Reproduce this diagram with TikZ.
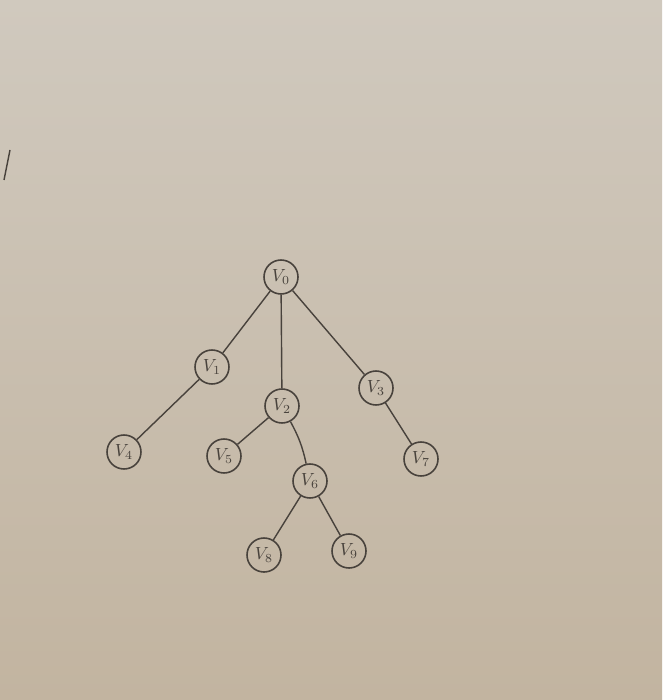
\documentclass[tikz,border=0pt]{standalone}
\usepackage{amsmath}
\usepackage{tikz}
\definecolor{paper}{RGB}{208,201,190}
\definecolor{paperlow}{RGB}{194,180,160}
\definecolor{pencil}{RGB}{72,66,60}
\begin{document}
\begin{tikzpicture}[scale=0.2]
\tikzstyle{every node}+=[inner sep=0pt]
\tikzstyle{vert}=[circle, draw=pencil, line width=0.9pt, minimum size=0.68cm, text=pencil, font=\normalsize]
\shade [top color=paper, bottom color=paperlow] (0,0) rectangle (66.2,-70);
\useasboundingbox (0,0) rectangle (66.2,-70);
\draw [pencil, line width=0.8pt] (1.0,-15.0) -- (0.4,-18.0);
\node [vert] (v0) at (28.1,-27.7) {$V_0$};
\node [vert] (v1) at (21.2,-36.7) {$V_1$};
\node [vert] (v2) at (28.2,-40.6) {$V_2$};
\node [vert] (v3) at (37.6,-38.8) {$V_3$};
\node [vert] (v4) at (12.4,-45.2) {$V_4$};
\node [vert] (v5) at (22.4,-45.6) {$V_5$};
\node [vert] (v6) at (31.0,-48.1) {$V_6$};
\node [vert] (v7) at (42.1,-45.9) {$V_7$};
\node [vert] (v8) at (26.4,-55.5) {$V_8$};
\node [vert] (v9) at (34.9,-55.1) {$V_9$};
\draw [pencil, line width=0.8pt] (v0) -- (v1);
\draw [pencil, line width=0.8pt] (v0) -- (v2);
\draw [pencil, line width=0.8pt] (v0) -- (v3);
\draw [pencil, line width=0.8pt] (v1) -- (v4);
\draw [pencil, line width=0.8pt] (v2) -- (v5);
\draw [pencil, line width=0.8pt] (v2) to [bend left=8] (v6);
\draw [pencil, line width=0.8pt] (v3) -- (v7);
\draw [pencil, line width=0.8pt] (v6) -- (v8);
\draw [pencil, line width=0.8pt] (v6) -- (v9);
\end{tikzpicture}
\end{document}
